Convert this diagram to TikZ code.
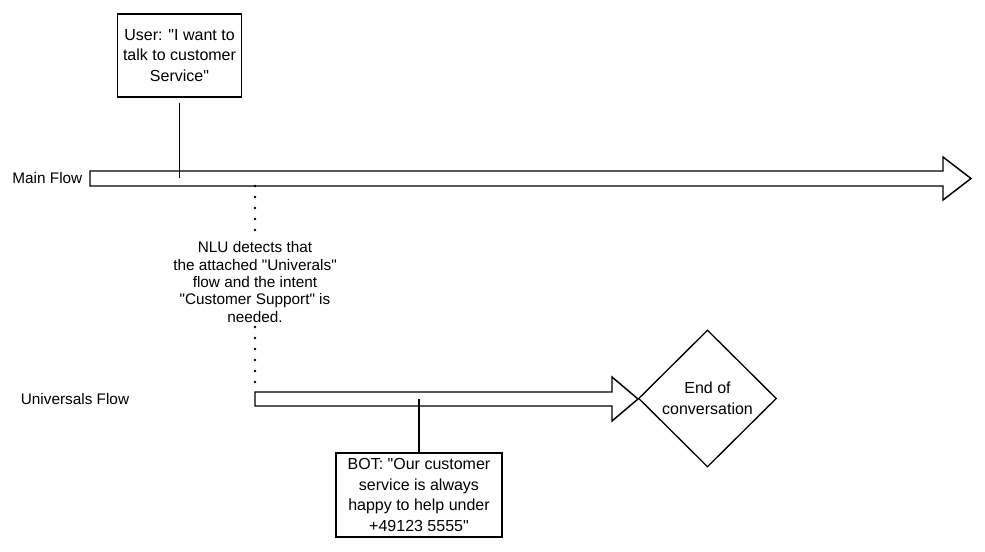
\documentclass[tikz,border=0pt]{standalone}
\usepackage{fontspec}
\setmainfont{Liberation Sans}[Ligatures=TeXOff]
\usetikzlibrary{shapes.geometric,positioning,calc}

\begin{document}
\begin{tikzpicture}[x=0.75pt, y=-0.75pt,
  flowarrow/.style={draw, line width=1.1pt, line join=miter},
  msgbox/.style={draw, line width=1pt, align=center, inner sep=0pt, font=\fontsize{12}{15.5}\selectfont},
  label/.style={font=\fontsize{11.5}{13}\selectfont, align=center},
  dots/.style={line width=2pt, line cap=round, dash pattern=on 0pt off 8.25pt},
  link/.style={line width=1pt},
]
\useasboundingbox (0,0) rectangle (985,552);

% === MAIN FLOW ===
\draw[flowarrow] (90,171) -- (943,171) -- (943,157) -- (971,178.5) -- (943,200) -- (943,186) -- (90,186) -- cycle;
\coordinate (mainhit) at (179.5,178.5);
\coordinate (mainfork) at (255,186);
\node[label, anchor=east] (mainlbl) at (87,178.5) {Main Flow};

\node[msgbox, minimum width=93pt, minimum height=62.25pt] (user) at (179.5,55.5)
  {User: "I want to\\talk to customer\\Service"};
\draw[link, shorten <=3.75pt] (user.south) -- (mainhit);

% === UNIVERSALS FLOW ===
\draw[flowarrow] (255,392) -- (612,392) -- (612,377) -- (638,399) -- (612,421) -- (612,406) -- (255,406) -- cycle;
\coordinate (univfork) at (255,392);
\coordinate (univhit) at (419,399);
\node[label] (univlbl) at (75,399) {Universals Flow};

% === NLU HAND-OVER ===
\node[label] (nlu) at (255,282)
  {NLU detects that\\the attached "Univerals"\\flow and the intent\\"Customer Support" is\\needed.};
\draw[dots] (mainfork) -- (nlu.north);
\draw[dots] (nlu.south) -- (univfork);

\node[draw, diamond, line width=1pt, inner sep=0pt, align=center, minimum width=103.5pt, minimum height=102.75pt,
  font=\fontsize{12}{15.5}\selectfont] (end) at (707.5,398.5) {End of\\conversation};

\node[msgbox, minimum width=124.5pt, minimum height=63pt] (bot) at (419,495)
  {BOT: "Our customer\\service is always\\happy to help under\\+49123 5555"};
\draw[link] (univhit) -- (bot.north);
\end{tikzpicture}
\end{document}
